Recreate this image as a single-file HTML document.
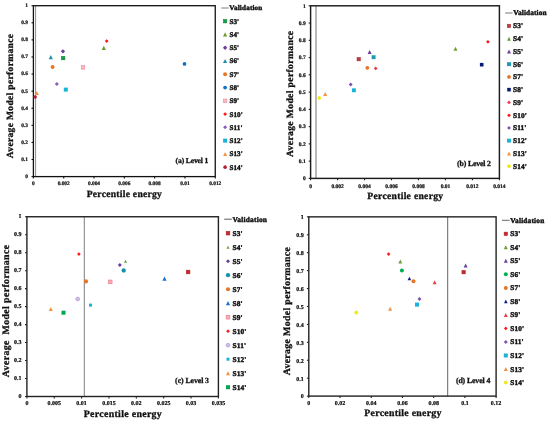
<!DOCTYPE html>
<html lang="en"><head><meta charset="utf-8"><title>Average model performance vs percentile energy</title>
<style>html,body{margin:0;padding:0;background:#fff;}svg{display:block;}text{font-family:'Liberation Serif', 'DejaVu Serif', serif;font-weight:bold;text-rendering:geometricPrecision;fill:#111;stroke:#111;stroke-width:0.3px;stroke-linejoin:round;}.t{stroke-width:0.22px;}.l{stroke-width:0.42px;}</style></head><body>
<svg width="550" height="423" viewBox="0 0 550 423">
<rect x="0" y="0" width="550" height="423" fill="#ffffff"/>
<g>
<line x1="35.6" y1="5.7" x2="35.6" y2="176.6" stroke="#808080" stroke-width="0.9"/>
<rect x="33.4" y="5.7" width="181.85" height="170.9" fill="none" stroke="#111" stroke-width="1.3"/>
<line x1="31.5" y1="176.6" x2="33.4" y2="176.6" stroke="#111" stroke-width="1.1"/>
<text x="27.9" y="177.98" class="t" font-size="5.4" text-anchor="end">0</text>
<line x1="31.5" y1="159.51" x2="33.4" y2="159.51" stroke="#111" stroke-width="1.1"/>
<text x="27.9" y="160.89" class="t" font-size="5.4" text-anchor="end">0.1</text>
<line x1="31.5" y1="142.42" x2="33.4" y2="142.42" stroke="#111" stroke-width="1.1"/>
<text x="27.9" y="143.8" class="t" font-size="5.4" text-anchor="end">0.2</text>
<line x1="31.5" y1="125.33" x2="33.4" y2="125.33" stroke="#111" stroke-width="1.1"/>
<text x="27.9" y="126.71" class="t" font-size="5.4" text-anchor="end">0.3</text>
<line x1="31.5" y1="108.24" x2="33.4" y2="108.24" stroke="#111" stroke-width="1.1"/>
<text x="27.9" y="109.62" class="t" font-size="5.4" text-anchor="end">0.4</text>
<line x1="31.5" y1="91.15" x2="33.4" y2="91.15" stroke="#111" stroke-width="1.1"/>
<text x="27.9" y="92.53" class="t" font-size="5.4" text-anchor="end">0.5</text>
<line x1="31.5" y1="74.06" x2="33.4" y2="74.06" stroke="#111" stroke-width="1.1"/>
<text x="27.9" y="75.44" class="t" font-size="5.4" text-anchor="end">0.6</text>
<line x1="31.5" y1="56.97" x2="33.4" y2="56.97" stroke="#111" stroke-width="1.1"/>
<text x="27.9" y="58.35" class="t" font-size="5.4" text-anchor="end">0.7</text>
<line x1="31.5" y1="39.88" x2="33.4" y2="39.88" stroke="#111" stroke-width="1.1"/>
<text x="27.9" y="41.26" class="t" font-size="5.4" text-anchor="end">0.8</text>
<line x1="31.5" y1="22.79" x2="33.4" y2="22.79" stroke="#111" stroke-width="1.1"/>
<text x="27.9" y="24.17" class="t" font-size="5.4" text-anchor="end">0.9</text>
<line x1="31.5" y1="5.7" x2="33.4" y2="5.7" stroke="#111" stroke-width="1.1"/>
<text x="27.9" y="7.08" class="t" font-size="5.4" text-anchor="end">1</text>
<line x1="33.4" y1="176.6" x2="33.4" y2="178.5" stroke="#111" stroke-width="1.1"/>
<text x="33.4" y="185.28" class="t" font-size="5.4" text-anchor="middle">0</text>
<line x1="63.71" y1="176.6" x2="63.71" y2="178.5" stroke="#111" stroke-width="1.1"/>
<text x="63.71" y="185.28" class="t" font-size="5.4" text-anchor="middle">0.002</text>
<line x1="94.02" y1="176.6" x2="94.02" y2="178.5" stroke="#111" stroke-width="1.1"/>
<text x="94.02" y="185.28" class="t" font-size="5.4" text-anchor="middle">0.004</text>
<line x1="124.32" y1="176.6" x2="124.32" y2="178.5" stroke="#111" stroke-width="1.1"/>
<text x="124.32" y="185.28" class="t" font-size="5.4" text-anchor="middle">0.006</text>
<line x1="154.63" y1="176.6" x2="154.63" y2="178.5" stroke="#111" stroke-width="1.1"/>
<text x="154.63" y="185.28" class="t" font-size="5.4" text-anchor="middle">0.008</text>
<line x1="184.94" y1="176.6" x2="184.94" y2="178.5" stroke="#111" stroke-width="1.1"/>
<text x="184.94" y="185.28" class="t" font-size="5.4" text-anchor="middle">0.01</text>
<line x1="215.25" y1="176.6" x2="215.25" y2="178.5" stroke="#111" stroke-width="1.1"/>
<text x="215.25" y="185.28" class="t" font-size="5.4" text-anchor="middle">0.012</text>
<text transform="translate(12.6,158.2) rotate(-90)" font-size="9.5" textLength="124.2" lengthAdjust="spacing">Average Model performance</text>
<text x="86.7" y="197.2" font-size="9.6" textLength="75.2" lengthAdjust="spacing">Percentile energy</text>
<text x="175.6" y="163.01" font-size="7.6" textLength="32.8" lengthAdjust="spacing">(a) Level 1</text>
<rect x="61.5" y="56.4" width="3.4" height="3.4" fill="#00a651" stroke="#2f7d32" stroke-width="0.6"/>
<polygon points="103.8,45.7 105.9,49.9 101.7,49.9" fill="#6a9a2d"/>
<polygon points="62.95,49.15 65.1,51.3 62.95,53.45 60.8,51.3" fill="#6d3b9e"/>
<polygon points="50.8,55 52.9,59.2 48.7,59.2" fill="#1f8fb0"/>
<circle cx="52.6" cy="67" r="1.95" fill="#e87424"/>
<circle cx="184.5" cy="63.9" r="1.9" fill="#1372c4"/>
<rect x="81.25" y="65.65" width="3.5" height="3.5" fill="#f7bcc2" stroke="#ef8b95" stroke-width="0.6"/>
<polygon points="106.7,39.2 108.6,41.1 106.7,43 104.8,41.1" fill="#ff1a1a"/>
<polygon points="56.8,81.9 58.8,83.9 56.8,85.9 54.8,83.9" fill="#8a5cb8"/>
<rect x="63.8" y="87.6" width="4" height="4" fill="#19b3d3"/>
<polygon points="36.9,90.9 38.9,94.9 34.9,94.9" fill="#f7913d"/>
<circle cx="35.1" cy="97" r="1.8" fill="#b3202f"/>
<line x1="221.3" y1="8" x2="228.6" y2="8" stroke="#9c9c9c" stroke-width="1.3"/>
<text x="229.3" y="10.34" class="l" font-size="7.1" textLength="33" lengthAdjust="spacing">Validation</text>
<rect x="223.4" y="19.5" width="3.4" height="3.4" fill="#00a651" stroke="#2f7d32" stroke-width="0.6"/>
<text x="229.4" y="23.64" class="l" font-size="7.1" letter-spacing="0.12">S3'</text>
<polygon points="225.1,32.37 227.2,36.57 223,36.57" fill="#6a9a2d"/>
<text x="229.4" y="36.91" class="l" font-size="7.1" letter-spacing="0.12">S4'</text>
<polygon points="225.1,45.59 227.25,47.74 225.1,49.89 222.95,47.74" fill="#6d3b9e"/>
<text x="229.4" y="50.18" class="l" font-size="7.1" letter-spacing="0.12">S5'</text>
<polygon points="225.1,58.91 227.2,63.11 223,63.11" fill="#1f8fb0"/>
<text x="229.4" y="63.45" class="l" font-size="7.1" letter-spacing="0.12">S6'</text>
<circle cx="225.1" cy="74.28" r="1.95" fill="#e87424"/>
<text x="229.4" y="76.72" class="l" font-size="7.1" letter-spacing="0.12">S7'</text>
<circle cx="225.1" cy="87.55" r="1.9" fill="#1372c4"/>
<text x="229.4" y="89.99" class="l" font-size="7.1" letter-spacing="0.12">S8'</text>
<rect x="223.35" y="99.07" width="3.5" height="3.5" fill="#f7bcc2" stroke="#ef8b95" stroke-width="0.6"/>
<text x="229.4" y="103.26" class="l" font-size="7.1" letter-spacing="0.12">S9'</text>
<polygon points="225.1,112.19 227,114.09 225.1,115.99 223.2,114.09" fill="#ff1a1a"/>
<text x="229.4" y="116.53" class="l" font-size="7.1" letter-spacing="0.12">S10'</text>
<polygon points="225.1,125.36 227.1,127.36 225.1,129.36 223.1,127.36" fill="#8a5cb8"/>
<text x="229.4" y="129.8" class="l" font-size="7.1" letter-spacing="0.12">S11'</text>
<rect x="223.1" y="138.63" width="4" height="4" fill="#19b3d3"/>
<text x="229.4" y="143.07" class="l" font-size="7.1" letter-spacing="0.12">S12'</text>
<polygon points="225.1,151.9 227.1,155.9 223.1,155.9" fill="#f7913d"/>
<text x="229.4" y="156.34" class="l" font-size="7.1" letter-spacing="0.12">S13'</text>
<circle cx="225.1" cy="167.17" r="1.8" fill="#b3202f"/>
<text x="229.4" y="169.61" class="l" font-size="7.1" letter-spacing="0.12">S14'</text>
</g>
<g>
<line x1="316" y1="5.8" x2="316" y2="178.4" stroke="#8a8a8a" stroke-width="1.2"/>
<rect x="310.6" y="5.8" width="188.8" height="172.6" fill="none" stroke="#1c1c1c" stroke-width="1.45"/>
<line x1="308.7" y1="178.4" x2="310.6" y2="178.4" stroke="#1c1c1c" stroke-width="1.1"/>
<text x="305.7" y="180.22" class="t" font-size="5.5" text-anchor="end">0</text>
<line x1="308.7" y1="161.14" x2="310.6" y2="161.14" stroke="#1c1c1c" stroke-width="1.1"/>
<text x="305.7" y="162.96" class="t" font-size="5.5" text-anchor="end">0.1</text>
<line x1="308.7" y1="143.88" x2="310.6" y2="143.88" stroke="#1c1c1c" stroke-width="1.1"/>
<text x="305.7" y="145.69" class="t" font-size="5.5" text-anchor="end">0.2</text>
<line x1="308.7" y1="126.62" x2="310.6" y2="126.62" stroke="#1c1c1c" stroke-width="1.1"/>
<text x="305.7" y="128.44" class="t" font-size="5.5" text-anchor="end">0.3</text>
<line x1="308.7" y1="109.36" x2="310.6" y2="109.36" stroke="#1c1c1c" stroke-width="1.1"/>
<text x="305.7" y="111.17" class="t" font-size="5.5" text-anchor="end">0.4</text>
<line x1="308.7" y1="92.1" x2="310.6" y2="92.1" stroke="#1c1c1c" stroke-width="1.1"/>
<text x="305.7" y="93.92" class="t" font-size="5.5" text-anchor="end">0.5</text>
<line x1="308.7" y1="74.84" x2="310.6" y2="74.84" stroke="#1c1c1c" stroke-width="1.1"/>
<text x="305.7" y="76.66" class="t" font-size="5.5" text-anchor="end">0.6</text>
<line x1="308.7" y1="57.58" x2="310.6" y2="57.58" stroke="#1c1c1c" stroke-width="1.1"/>
<text x="305.7" y="59.4" class="t" font-size="5.5" text-anchor="end">0.7</text>
<line x1="308.7" y1="40.32" x2="310.6" y2="40.32" stroke="#1c1c1c" stroke-width="1.1"/>
<text x="305.7" y="42.13" class="t" font-size="5.5" text-anchor="end">0.8</text>
<line x1="308.7" y1="23.06" x2="310.6" y2="23.06" stroke="#1c1c1c" stroke-width="1.1"/>
<text x="305.7" y="24.88" class="t" font-size="5.5" text-anchor="end">0.9</text>
<line x1="308.7" y1="5.8" x2="310.6" y2="5.8" stroke="#1c1c1c" stroke-width="1.1"/>
<text x="305.7" y="7.62" class="t" font-size="5.5" text-anchor="end">1</text>
<line x1="310.6" y1="178.4" x2="310.6" y2="180.3" stroke="#1c1c1c" stroke-width="1.1"/>
<text x="310.6" y="187.72" class="t" font-size="5.5" text-anchor="middle">0</text>
<line x1="337.57" y1="178.4" x2="337.57" y2="180.3" stroke="#1c1c1c" stroke-width="1.1"/>
<text x="337.57" y="187.72" class="t" font-size="5.5" text-anchor="middle">0.002</text>
<line x1="364.54" y1="178.4" x2="364.54" y2="180.3" stroke="#1c1c1c" stroke-width="1.1"/>
<text x="364.54" y="187.72" class="t" font-size="5.5" text-anchor="middle">0.004</text>
<line x1="391.51" y1="178.4" x2="391.51" y2="180.3" stroke="#1c1c1c" stroke-width="1.1"/>
<text x="391.51" y="187.72" class="t" font-size="5.5" text-anchor="middle">0.006</text>
<line x1="418.49" y1="178.4" x2="418.49" y2="180.3" stroke="#1c1c1c" stroke-width="1.1"/>
<text x="418.49" y="187.72" class="t" font-size="5.5" text-anchor="middle">0.008</text>
<line x1="445.46" y1="178.4" x2="445.46" y2="180.3" stroke="#1c1c1c" stroke-width="1.1"/>
<text x="445.46" y="187.72" class="t" font-size="5.5" text-anchor="middle">0.01</text>
<line x1="472.43" y1="178.4" x2="472.43" y2="180.3" stroke="#1c1c1c" stroke-width="1.1"/>
<text x="472.43" y="187.72" class="t" font-size="5.5" text-anchor="middle">0.012</text>
<line x1="499.4" y1="178.4" x2="499.4" y2="180.3" stroke="#1c1c1c" stroke-width="1.1"/>
<text x="499.4" y="187.72" class="t" font-size="5.5" text-anchor="middle">0.014</text>
<text transform="translate(292.6,157) rotate(-90)" font-size="9.6" textLength="126.1" lengthAdjust="spacing">Average Model performance</text>
<text x="367.3" y="199.2" font-size="9.6" textLength="75.8" lengthAdjust="spacing">Percentile energy</text>
<text x="457.1" y="166.27" font-size="7.8" textLength="33.9" lengthAdjust="spacing">(b) Level 2</text>
<rect x="357.05" y="57.55" width="3.3" height="3.3" fill="#be3a3f" stroke="#a83238" stroke-width="0.6"/>
<polygon points="455.5,46.7 457.5,50.7 453.5,50.7" fill="#6aa03a"/>
<polygon points="369.6,49.9 371.6,53.9 367.6,53.9" fill="#6b3fa0"/>
<rect x="371.65" y="55.25" width="3.9" height="3.9" fill="#1f9ab5"/>
<circle cx="367.3" cy="67.8" r="1.9" fill="#e87424"/>
<rect x="479.9" y="62.9" width="3.6" height="3.6" fill="#0a1a78"/>
<polygon points="375.7,66.5 377.6,68.4 375.7,70.3 373.8,68.4" fill="#e83a4a"/>
<circle cx="487.9" cy="41.7" r="1.5" fill="#ff1a1a"/>
<polygon points="350.7,82.6 352.6,84.5 350.7,86.4 348.8,84.5" fill="#7d4fb0"/>
<rect x="351.95" y="88.35" width="3.9" height="3.9" fill="#19b3d3"/>
<polygon points="325.2,92.1 327.2,96.1 323.2,96.1" fill="#f7913d"/>
<circle cx="319.3" cy="97.9" r="1.5" fill="#f3ee12" stroke="#e6de0c" stroke-width="0.6"/>
<line x1="505.2" y1="13" x2="512.6" y2="13" stroke="#9c9c9c" stroke-width="1.4"/>
<text x="513.3" y="15.41" class="l" font-size="7.3" textLength="33.2" lengthAdjust="spacing">Validation</text>
<rect x="507.35" y="24.25" width="3.3" height="3.3" fill="#be3a3f" stroke="#a83238" stroke-width="0.6"/>
<text x="513" y="28.41" class="l" font-size="7.3" letter-spacing="0.12">S3'</text>
<polygon points="509,36.65 511,40.65 507,40.65" fill="#6aa03a"/>
<text x="513" y="41.16" class="l" font-size="7.3" letter-spacing="0.12">S4'</text>
<polygon points="509,49.4 511,53.4 507,53.4" fill="#6b3fa0"/>
<text x="513" y="53.91" class="l" font-size="7.3" letter-spacing="0.12">S5'</text>
<rect x="507.05" y="62.2" width="3.9" height="3.9" fill="#1f9ab5"/>
<text x="513" y="66.66" class="l" font-size="7.3" letter-spacing="0.12">S6'</text>
<circle cx="509" cy="76.9" r="1.9" fill="#e87424"/>
<text x="513" y="79.41" class="l" font-size="7.3" letter-spacing="0.12">S7'</text>
<rect x="507.2" y="87.85" width="3.6" height="3.6" fill="#0a1a78"/>
<text x="513" y="92.16" class="l" font-size="7.3" letter-spacing="0.12">S8'</text>
<polygon points="509,100.5 510.9,102.4 509,104.3 507.1,102.4" fill="#e83a4a"/>
<text x="513" y="104.91" class="l" font-size="7.3" letter-spacing="0.12">S9'</text>
<circle cx="509" cy="115.15" r="1.5" fill="#ff1a1a"/>
<text x="513" y="117.66" class="l" font-size="7.3" letter-spacing="0.12">S10'</text>
<polygon points="509,126 510.9,127.9 509,129.8 507.1,127.9" fill="#7d4fb0"/>
<text x="513" y="130.41" class="l" font-size="7.3" letter-spacing="0.12">S11'</text>
<rect x="507.05" y="138.7" width="3.9" height="3.9" fill="#19b3d3"/>
<text x="513" y="143.16" class="l" font-size="7.3" letter-spacing="0.12">S12'</text>
<polygon points="509,151.4 511,155.4 507,155.4" fill="#f7913d"/>
<text x="513" y="155.91" class="l" font-size="7.3" letter-spacing="0.12">S13'</text>
<circle cx="509" cy="166.15" r="1.5" fill="#f3ee12" stroke="#e6de0c" stroke-width="0.6"/>
<text x="513" y="168.66" class="l" font-size="7.3" letter-spacing="0.12">S14'</text>
</g>
<g>
<line x1="84.3" y1="216.75" x2="84.3" y2="396.5" stroke="#777" stroke-width="0.95"/>
<rect x="26.9" y="216.75" width="191.5" height="179.75" fill="none" stroke="#222" stroke-width="1.4"/>
<line x1="25" y1="396.5" x2="26.9" y2="396.5" stroke="#222" stroke-width="1.1"/>
<text x="21.6" y="398.08" class="t" font-size="6.0" text-anchor="end">0</text>
<line x1="25" y1="378.52" x2="26.9" y2="378.52" stroke="#222" stroke-width="1.1"/>
<text x="21.6" y="380.11" class="t" font-size="6.0" text-anchor="end">0.1</text>
<line x1="25" y1="360.55" x2="26.9" y2="360.55" stroke="#222" stroke-width="1.1"/>
<text x="21.6" y="362.13" class="t" font-size="6.0" text-anchor="end">0.2</text>
<line x1="25" y1="342.57" x2="26.9" y2="342.57" stroke="#222" stroke-width="1.1"/>
<text x="21.6" y="344.16" class="t" font-size="6.0" text-anchor="end">0.3</text>
<line x1="25" y1="324.6" x2="26.9" y2="324.6" stroke="#222" stroke-width="1.1"/>
<text x="21.6" y="326.18" class="t" font-size="6.0" text-anchor="end">0.4</text>
<line x1="25" y1="306.62" x2="26.9" y2="306.62" stroke="#222" stroke-width="1.1"/>
<text x="21.6" y="308.21" class="t" font-size="6.0" text-anchor="end">0.5</text>
<line x1="25" y1="288.65" x2="26.9" y2="288.65" stroke="#222" stroke-width="1.1"/>
<text x="21.6" y="290.23" class="t" font-size="6.0" text-anchor="end">0.6</text>
<line x1="25" y1="270.68" x2="26.9" y2="270.68" stroke="#222" stroke-width="1.1"/>
<text x="21.6" y="272.26" class="t" font-size="6.0" text-anchor="end">0.7</text>
<line x1="25" y1="252.7" x2="26.9" y2="252.7" stroke="#222" stroke-width="1.1"/>
<text x="21.6" y="254.28" class="t" font-size="6.0" text-anchor="end">0.8</text>
<line x1="25" y1="234.72" x2="26.9" y2="234.72" stroke="#222" stroke-width="1.1"/>
<text x="21.6" y="236.3" class="t" font-size="6.0" text-anchor="end">0.9</text>
<line x1="25" y1="216.75" x2="26.9" y2="216.75" stroke="#222" stroke-width="1.1"/>
<text x="21.6" y="218.33" class="t" font-size="6.0" text-anchor="end">1</text>
<line x1="26.9" y1="396.5" x2="26.9" y2="398.4" stroke="#222" stroke-width="1.1"/>
<text x="26.9" y="405.28" class="t" font-size="6.0" text-anchor="middle">0</text>
<line x1="54.26" y1="396.5" x2="54.26" y2="398.4" stroke="#222" stroke-width="1.1"/>
<text x="54.26" y="405.28" class="t" font-size="6.0" text-anchor="middle">0.005</text>
<line x1="81.61" y1="396.5" x2="81.61" y2="398.4" stroke="#222" stroke-width="1.1"/>
<text x="81.61" y="405.28" class="t" font-size="6.0" text-anchor="middle">0.01</text>
<line x1="108.97" y1="396.5" x2="108.97" y2="398.4" stroke="#222" stroke-width="1.1"/>
<text x="108.97" y="405.28" class="t" font-size="6.0" text-anchor="middle">0.015</text>
<line x1="136.33" y1="396.5" x2="136.33" y2="398.4" stroke="#222" stroke-width="1.1"/>
<text x="136.33" y="405.28" class="t" font-size="6.0" text-anchor="middle">0.02</text>
<line x1="163.69" y1="396.5" x2="163.69" y2="398.4" stroke="#222" stroke-width="1.1"/>
<text x="163.69" y="405.28" class="t" font-size="6.0" text-anchor="middle">0.025</text>
<line x1="191.04" y1="396.5" x2="191.04" y2="398.4" stroke="#222" stroke-width="1.1"/>
<text x="191.04" y="405.28" class="t" font-size="6.0" text-anchor="middle">0.03</text>
<line x1="218.4" y1="396.5" x2="218.4" y2="398.4" stroke="#222" stroke-width="1.1"/>
<text x="218.4" y="405.28" class="t" font-size="6.0" text-anchor="middle">0.035</text>
<text transform="translate(9.3,377.2) rotate(-90)" font-size="9.9" textLength="132.3" lengthAdjust="spacing">Average  Model performance</text>
<text x="83.7" y="416.7" font-size="9.9" textLength="78.1" lengthAdjust="spacing">Percentile energy</text>
<text x="175.1" y="383.07" font-size="7.8" textLength="33.9" lengthAdjust="spacing">(c) Level 3</text>
<rect x="186.3" y="270.2" width="3.6" height="3.6" fill="#c8282d" stroke="#b02028" stroke-width="0.6"/>
<polygon points="125.5,259.65 127.05,262.75 123.95,262.75" fill="#6aa03a"/>
<polygon points="119.8,263.1 121.8,265.1 119.8,267.1 117.8,265.1" fill="#6b3fa0"/>
<circle cx="123.7" cy="270.5" r="2.15" fill="#1790ad"/>
<circle cx="86" cy="281.4" r="2.05" fill="#e87424"/>
<polygon points="164.5,276.5 166.6,280.7 162.4,280.7" fill="#1a73d0"/>
<rect x="108.35" y="280.05" width="3.7" height="3.7" fill="#f5b0b7" stroke="#ea7783" stroke-width="0.6"/>
<polygon points="78.9,252.25 80.75,254.1 78.9,255.95 77.05,254.1" fill="#ff1a1a"/>
<circle cx="77.7" cy="299" r="1.9" fill="#cdbfe6" stroke="#a98fd0" stroke-width="0.6"/>
<rect x="89" y="303.6" width="3" height="3" fill="#19b3d3"/>
<polygon points="50.8,306.9 52.8,310.9 48.8,310.9" fill="#f7913d"/>
<rect x="61.5" y="310.7" width="4" height="4" fill="#00a651"/>
<line x1="224.2" y1="219.2" x2="231.8" y2="219.2" stroke="#4a4a4a" stroke-width="0.9"/>
<text x="232.5" y="221.64" class="l" font-size="7.4" textLength="34.4" lengthAdjust="spacing">Validation</text>
<rect x="226.2" y="231.4" width="3.6" height="3.6" fill="#c8282d" stroke="#b02028" stroke-width="0.6"/>
<text x="232.5" y="235.74" class="l" font-size="7.4" letter-spacing="0.12">S3'</text>
<polygon points="228,245.65 229.55,248.75 226.45,248.75" fill="#6aa03a"/>
<text x="232.5" y="249.74" class="l" font-size="7.4" letter-spacing="0.12">S4'</text>
<polygon points="228,259.2 230,261.2 228,263.2 226,261.2" fill="#6b3fa0"/>
<text x="232.5" y="263.74" class="l" font-size="7.4" letter-spacing="0.12">S5'</text>
<circle cx="228" cy="275.2" r="2.15" fill="#1790ad"/>
<text x="232.5" y="277.74" class="l" font-size="7.4" letter-spacing="0.12">S6'</text>
<circle cx="228" cy="289.2" r="2.05" fill="#e87424"/>
<text x="232.5" y="291.74" class="l" font-size="7.4" letter-spacing="0.12">S7'</text>
<polygon points="228,301.1 230.1,305.3 225.9,305.3" fill="#1a73d0"/>
<text x="232.5" y="305.74" class="l" font-size="7.4" letter-spacing="0.12">S8'</text>
<rect x="226.15" y="315.35" width="3.7" height="3.7" fill="#f5b0b7" stroke="#ea7783" stroke-width="0.6"/>
<text x="232.5" y="319.74" class="l" font-size="7.4" letter-spacing="0.12">S9'</text>
<polygon points="228,329.35 229.85,331.2 228,333.05 226.15,331.2" fill="#ff1a1a"/>
<text x="232.5" y="333.74" class="l" font-size="7.4" letter-spacing="0.12">S10'</text>
<circle cx="228" cy="345.2" r="1.9" fill="#cdbfe6" stroke="#a98fd0" stroke-width="0.6"/>
<text x="232.5" y="347.74" class="l" font-size="7.4" letter-spacing="0.12">S11'</text>
<rect x="226.5" y="357.7" width="3" height="3" fill="#19b3d3"/>
<text x="232.5" y="361.74" class="l" font-size="7.4" letter-spacing="0.12">S12'</text>
<polygon points="228,371.2 230,375.2 226,375.2" fill="#f7913d"/>
<text x="232.5" y="375.74" class="l" font-size="7.4" letter-spacing="0.12">S13'</text>
<rect x="226" y="385.2" width="4" height="4" fill="#00a651"/>
<text x="232.5" y="389.74" class="l" font-size="7.4" letter-spacing="0.12">S14'</text>
</g>
<g>
<line x1="447.7" y1="216.85" x2="447.7" y2="396.1" stroke="#666" stroke-width="1.0"/>
<rect x="308.8" y="216.85" width="187.3" height="179.25" fill="none" stroke="#222" stroke-width="1.4"/>
<line x1="306.9" y1="396.1" x2="308.8" y2="396.1" stroke="#222" stroke-width="1.1"/>
<text x="303.8" y="398.48" class="t" font-size="6.0" text-anchor="end">0</text>
<line x1="306.9" y1="378.18" x2="308.8" y2="378.18" stroke="#222" stroke-width="1.1"/>
<text x="303.8" y="380.56" class="t" font-size="6.0" text-anchor="end">0.1</text>
<line x1="306.9" y1="360.25" x2="308.8" y2="360.25" stroke="#222" stroke-width="1.1"/>
<text x="303.8" y="362.63" class="t" font-size="6.0" text-anchor="end">0.2</text>
<line x1="306.9" y1="342.33" x2="308.8" y2="342.33" stroke="#222" stroke-width="1.1"/>
<text x="303.8" y="344.71" class="t" font-size="6.0" text-anchor="end">0.3</text>
<line x1="306.9" y1="324.4" x2="308.8" y2="324.4" stroke="#222" stroke-width="1.1"/>
<text x="303.8" y="326.78" class="t" font-size="6.0" text-anchor="end">0.4</text>
<line x1="306.9" y1="306.48" x2="308.8" y2="306.48" stroke="#222" stroke-width="1.1"/>
<text x="303.8" y="308.86" class="t" font-size="6.0" text-anchor="end">0.5</text>
<line x1="306.9" y1="288.55" x2="308.8" y2="288.55" stroke="#222" stroke-width="1.1"/>
<text x="303.8" y="290.93" class="t" font-size="6.0" text-anchor="end">0.6</text>
<line x1="306.9" y1="270.62" x2="308.8" y2="270.62" stroke="#222" stroke-width="1.1"/>
<text x="303.8" y="273" class="t" font-size="6.0" text-anchor="end">0.7</text>
<line x1="306.9" y1="252.7" x2="308.8" y2="252.7" stroke="#222" stroke-width="1.1"/>
<text x="303.8" y="255.08" class="t" font-size="6.0" text-anchor="end">0.8</text>
<line x1="306.9" y1="234.78" x2="308.8" y2="234.78" stroke="#222" stroke-width="1.1"/>
<text x="303.8" y="237.16" class="t" font-size="6.0" text-anchor="end">0.9</text>
<line x1="306.9" y1="216.85" x2="308.8" y2="216.85" stroke="#222" stroke-width="1.1"/>
<text x="303.8" y="219.23" class="t" font-size="6.0" text-anchor="end">1</text>
<line x1="308.8" y1="396.1" x2="308.8" y2="398" stroke="#222" stroke-width="1.1"/>
<text x="308.8" y="404.98" class="t" font-size="6.0" text-anchor="middle">0</text>
<line x1="340.02" y1="396.1" x2="340.02" y2="398" stroke="#222" stroke-width="1.1"/>
<text x="340.02" y="404.98" class="t" font-size="6.0" text-anchor="middle">0.02</text>
<line x1="371.23" y1="396.1" x2="371.23" y2="398" stroke="#222" stroke-width="1.1"/>
<text x="371.23" y="404.98" class="t" font-size="6.0" text-anchor="middle">0.04</text>
<line x1="402.45" y1="396.1" x2="402.45" y2="398" stroke="#222" stroke-width="1.1"/>
<text x="402.45" y="404.98" class="t" font-size="6.0" text-anchor="middle">0.06</text>
<line x1="433.67" y1="396.1" x2="433.67" y2="398" stroke="#222" stroke-width="1.1"/>
<text x="433.67" y="404.98" class="t" font-size="6.0" text-anchor="middle">0.08</text>
<line x1="464.88" y1="396.1" x2="464.88" y2="398" stroke="#222" stroke-width="1.1"/>
<text x="464.88" y="404.98" class="t" font-size="6.0" text-anchor="middle">0.1</text>
<line x1="496.1" y1="396.1" x2="496.1" y2="398" stroke="#222" stroke-width="1.1"/>
<text x="496.1" y="404.98" class="t" font-size="6.0" text-anchor="middle">0.12</text>
<text transform="translate(290.3,375.3) rotate(-90)" font-size="9.8" textLength="128.1" lengthAdjust="spacing">Average Model performance</text>
<text x="364.3" y="416.2" font-size="9.8" textLength="77.1" lengthAdjust="spacing">Percentile energy</text>
<text x="455.9" y="382.67" font-size="7.8" textLength="34.4" lengthAdjust="spacing">(d) Level 4</text>
<rect x="461.95" y="270.55" width="3.3" height="3.3" fill="#c8282d" stroke="#b02028" stroke-width="0.6"/>
<polygon points="400.3,259.5 402.3,263.5 398.3,263.5" fill="#6aa03a"/>
<polygon points="465.6,263.4 467.6,267.4 463.6,267.4" fill="#6b3fa0"/>
<circle cx="401.9" cy="270.6" r="2" fill="#00b050"/>
<circle cx="413.5" cy="281.2" r="2" fill="#e87424"/>
<polygon points="409.4,276.7 411.2,280.3 407.6,280.3" fill="#0a1a8a"/>
<polygon points="434.6,280.3 436.6,284.3 432.6,284.3" fill="#e8404a"/>
<polygon points="388.6,252.25 390.45,254.1 388.6,255.95 386.75,254.1" fill="#ff1a1a"/>
<polygon points="419.5,297.05 421.45,299 419.5,300.95 417.55,299" fill="#7d4fb0"/>
<rect x="415" y="302.6" width="4" height="4" fill="#19b3d3"/>
<polygon points="390.1,306.8 392.1,310.8 388.1,310.8" fill="#f7913d"/>
<circle cx="356.3" cy="312.6" r="1.6" fill="#f3ee12" stroke="#e6de0c" stroke-width="0.6"/>
<line x1="502" y1="220.3" x2="509.6" y2="220.3" stroke="#555" stroke-width="0.9"/>
<text x="510.3" y="222.71" class="l" font-size="7.3" textLength="33.9" lengthAdjust="spacing">Validation</text>
<rect x="504.15" y="232.15" width="3.3" height="3.3" fill="#c8282d" stroke="#b02028" stroke-width="0.6"/>
<text x="510.3" y="236.31" class="l" font-size="7.3" letter-spacing="0.12">S3'</text>
<polygon points="505.8,245.32 507.8,249.32 503.8,249.32" fill="#6aa03a"/>
<text x="510.3" y="249.83" class="l" font-size="7.3" letter-spacing="0.12">S4'</text>
<polygon points="505.8,258.84 507.8,262.84 503.8,262.84" fill="#6b3fa0"/>
<text x="510.3" y="263.35" class="l" font-size="7.3" letter-spacing="0.12">S5'</text>
<circle cx="505.8" cy="274.36" r="2" fill="#00b050"/>
<text x="510.3" y="276.87" class="l" font-size="7.3" letter-spacing="0.12">S6'</text>
<circle cx="505.8" cy="287.88" r="2" fill="#e87424"/>
<text x="510.3" y="290.39" class="l" font-size="7.3" letter-spacing="0.12">S7'</text>
<polygon points="505.8,299.6 507.6,303.2 504,303.2" fill="#0a1a8a"/>
<text x="510.3" y="303.91" class="l" font-size="7.3" letter-spacing="0.12">S8'</text>
<polygon points="505.8,312.92 507.8,316.92 503.8,316.92" fill="#e8404a"/>
<text x="510.3" y="317.43" class="l" font-size="7.3" letter-spacing="0.12">S9'</text>
<polygon points="505.8,326.59 507.65,328.44 505.8,330.29 503.95,328.44" fill="#ff1a1a"/>
<text x="510.3" y="330.95" class="l" font-size="7.3" letter-spacing="0.12">S10'</text>
<polygon points="505.8,340.01 507.75,341.96 505.8,343.91 503.85,341.96" fill="#7d4fb0"/>
<text x="510.3" y="344.47" class="l" font-size="7.3" letter-spacing="0.12">S11'</text>
<rect x="503.8" y="353.48" width="4" height="4" fill="#19b3d3"/>
<text x="510.3" y="357.99" class="l" font-size="7.3" letter-spacing="0.12">S12'</text>
<polygon points="505.8,367 507.8,371 503.8,371" fill="#f7913d"/>
<text x="510.3" y="371.51" class="l" font-size="7.3" letter-spacing="0.12">S13'</text>
<circle cx="505.8" cy="382.52" r="1.6" fill="#f3ee12" stroke="#e6de0c" stroke-width="0.6"/>
<text x="510.3" y="385.03" class="l" font-size="7.3" letter-spacing="0.12">S14'</text>
</g>
</svg></body></html>
